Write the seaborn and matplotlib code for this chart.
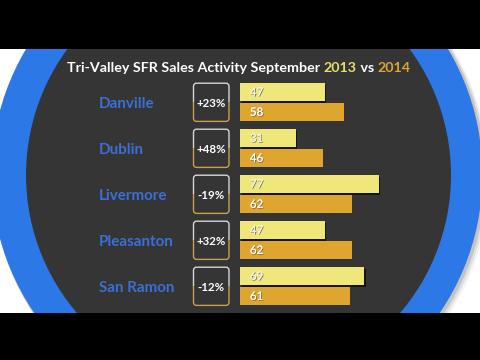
import matplotlib
matplotlib.use("Agg")
import matplotlib.pyplot as plt
import matplotlib.patches as mpatches
import matplotlib.patheffects as pe
import matplotlib.transforms as mtransforms
import seaborn as sns
import pandas as pd

# ---- data ----
cities = ["Danville", "Dublin", "Livermore", "Pleasanton", "San Ramon"]
sales_2013 = [47, 31, 77, 47, 69]
sales_2014 = [58, 46, 62, 62, 61]
pct_labels = ["+23%", "+48%", "-19%", "+32%", "-12%"]
years = ["2013", "2014"]
title_parts = ["Tri-Valley SFR Sales Activity September ", "2013", " vs ", "2014"]

# ---- style ----
DARK = "#353535"
BLUE = "#2c78e6"
CITY_BLUE = "#3b6fd4"
C13 = "#efe77a"
C14 = "#dea62f"
T13 = "#e6df6a"
T14 = "#d9a53a"

sns.set_theme(style="white")
plt.rcParams["font.family"] = ["Lato", "DejaVu Sans"]

fig = plt.figure(figsize=(4.8, 3.6), dpi=100, facecolor="black")

# background axes in pixel coordinates
ax0 = fig.add_axes([0, 0, 1, 1])
ax0.set_xlim(0, 480)
ax0.set_ylim(360, 0)
ax0.axis("off")

white = mpatches.Rectangle((0, 49), 480, 264, facecolor="white", edgecolor="none", zorder=0)
ax0.add_patch(white)
for k, a in [(7, 0.05), (5, 0.08), (3, 0.12)]:
    sh = mpatches.Circle((237 + k * 0.6, 174.5 + k * 0.6), 245.5 + k * 0.4, facecolor="black",
                         edgecolor="none", alpha=a, zorder=1)
    ax0.add_patch(sh)
    sh.set_clip_path(white)
ring = mpatches.Circle((237, 174.5), 245.5, facecolor=BLUE, edgecolor="none", zorder=2)
ax0.add_patch(ring)
ring.set_clip_path(white)
inner = mpatches.Circle((238.5, 175), 212.5, facecolor=DARK, edgecolor="none", zorder=3)
ax0.add_patch(inner)
inner.set_clip_path(white)

# ---- bars ----
df = pd.DataFrame({
    "city": cities * 2,
    "year": [years[0]] * len(cities) + [years[1]] * len(cities),
    "sales": sales_2013 + sales_2014,
})
ax1 = fig.add_axes([240 / 480, (360 - 309.3) / 360, 200 / 480, 230 / 360])
ax1.patch.set_alpha(0)
sns.barplot(data=df, y="city", x="sales", hue="year", orient="h",
            palette=[C13, C14], saturation=1, width=0.87, gap=0.1,
            legend=False, ax=ax1, errorbar=None, linewidth=0, edgecolor="none")
ax1.set_xlim(0, 200 / 1.8)
ax1.set_ylim(len(cities) - 0.5, -0.5)
ax1.axis("off")

for bar in ax1.containers[0]:
    bar.set_path_effects([pe.withSimplePatchShadow(offset=(1.2, -1.2), shadow_rgbFace="#111111", alpha=0.9),
                          pe.Normal()])

txt_shadow = [pe.withSimplePatchShadow(offset=(0.6, -0.6), shadow_rgbFace="#555555", alpha=0.8), pe.Normal()]
for ci, cont in enumerate(ax1.containers):
    for bar in cont:
        val = bar.get_width()
        ax1.text(5.5, bar.get_y() + bar.get_height() / 2, f"{val:.0f}", ha="left", va="center",
                 fontsize=8.3, color="white" if ci == 1 else "#f4f4ee",
                 path_effects=txt_shadow)

# ---- city labels and percent boxes ----
blend = mtransforms.blended_transform_factory(ax0.transData, ax1.transData)
for i, (city, pct) in enumerate(zip(cities, pct_labels)):
    ax0.text(99, i, city, transform=blend, ha="left", va="center_baseline",
             fontsize=10.9, fontweight="bold", color=CITY_BLUE, zorder=5)
    for half, col in [(0, "#d6d6d6"), (1, "#c9a04a")]:
        box = mpatches.FancyBboxPatch((193.5, i - 0.415), 35.5, 0.83,
                                      boxstyle="round,pad=0,rounding_size=3",
                                      mutation_aspect=1 / 46,
                                      transform=blend, facecolor=DARK, edgecolor=col,
                                      linewidth=1.0, zorder=5)
        ax0.add_patch(box)
        clip = mpatches.Rectangle((180, i - 0.6 + half * 0.6), 60, 0.6, transform=blend,
                                  facecolor="none", edgecolor="none")
        ax0.add_patch(clip)
        box.set_clip_path(clip)
    ax0.text(211.3, i, pct, transform=blend, ha="center", va="center_baseline",
             fontsize=8.3, fontweight="bold", color="white", zorder=6)

# ---- title with coloured years ----
renderer = fig.canvas.get_renderer()
TFS = 10.3


def text_width(s):
    t = ax0.text(0, 0, s + "|", fontsize=TFS, fontweight="bold")
    r = ax0.text(0, 0, "|", fontsize=TFS, fontweight="bold")
    w = t.get_window_extent(renderer=renderer).width - r.get_window_extent(renderer=renderer).width
    t.remove()
    r.remove()
    return w


colors = ["white", T13, "white", T14]
full_w = text_width("".join(title_parts))
x0 = 239 - full_w / 2
prefix = ""
for part, col in zip(title_parts, colors):
    ax0.text(x0 + text_width(prefix) if prefix else x0, 72, part, ha="left", va="baseline",
             fontsize=TFS, fontweight="bold", color=col, zorder=6)
    prefix += part

fig.savefig("out.png", dpi=100, facecolor="black")
